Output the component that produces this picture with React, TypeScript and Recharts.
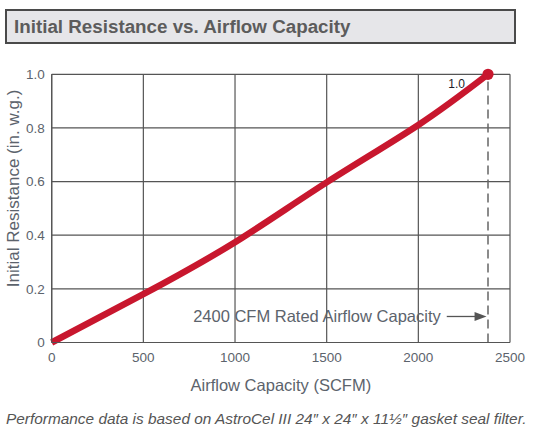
import {
  CartesianGrid,
  Label,
  Line,
  LineChart,
  ReferenceLine,
  XAxis,
  YAxis,
} from "recharts";

// values
const airflow = [0, 500, 1000, 1500, 2000, 2380];
const resistance = [0, 0.18, 0.374, 0.597, 0.811, 1.0];
const xTicks = [0, 500, 1000, 1500, 2000, 2500];
const yTicks = [0, 0.2, 0.4, 0.6, 0.8, 1.0];
const ratedAirflow = 2380;
const arrowFrom = { x: 2155, y: 0.097 };
const arrowTo = { x: 2372, y: 0.097 };

const data = airflow.map((x, i) => ({ x, y: resistance[i] }));
const lastIndex = data.length - 1;

const font = '"Liberation Sans", Arial, Helvetica, sans-serif';
const textGray = "#5c636c";
const gridGray = "#555";
const red = "#c8172e";

function EndDot(props: any) {
  const { cx, cy, index } = props;
  if (index !== lastIndex) return <g key={`d${index}`} />;
  return (
    <g key={`d${index}`}>
      <circle cx={cx} cy={cy} r={5.6} fill={red} />
      <text
        x={cx - 23}
        y={cy + 10}
        textAnchor="end"
        dominantBaseline="central"
        fontSize={12}
        fontFamily={font}
        fill="#1c1c28"
      >
        1.0
      </text>
    </g>
  );
}

function RatedArrow(props: any) {
  const { x1, y1, x2, y2 } = props;
  return (
    <g>
      <line x1={x1} y1={y1} x2={x2 - 9} y2={y2} stroke="#555" strokeWidth={1.3} />
      <polygon
        points={`${x2},${y2} ${x2 - 12},${y2 - 4.5} ${x2 - 12},${y2 + 4.5}`}
        fill="#555"
      />
      <text
        x={x1 - 6}
        y={y1}
        textAnchor="end"
        dominantBaseline="central"
        fontSize={16.5}
        fontFamily={font}
        fill={textGray}
      >
        2400 CFM Rated Airflow Capacity
      </text>
    </g>
  );
}

export default function App() {
  return (
    <div
      style={{
        position: "absolute",
        left: 0,
        top: 0,
        width: 534,
        height: 433,
        background: "#fff",
        fontFamily: font,
      }}
    >
      <div
        style={{
          position: "absolute",
          left: 5,
          top: 9,
          width: 511,
          height: 35,
          boxSizing: "border-box",
          border: "2px solid #4a4a4a",
          background: "#e6e6e9",
          color: "#5c5c5c",
          fontWeight: 700,
          fontSize: 18.8,
          lineHeight: "31px",
          paddingLeft: 7,
        }}
      >
        Initial Resistance vs. Airflow Capacity
      </div>

      <div style={{ position: "absolute", left: 0, top: 0 }}>
        <LineChart
          width={534}
          height={433}
          data={data}
          margin={{ top: 74.3, right: 24, bottom: 60.5, left: 11.7 }}
        >
          <CartesianGrid stroke={gridGray} strokeWidth={1.2} />
          <XAxis
            dataKey="x"
            type="number"
            domain={[0, 2500]}
            ticks={xTicks}
            height={30}
            tickSize={0}
            tickMargin={10}
            axisLine={{ stroke: gridGray, strokeWidth: 1.2 }}
            tick={{ fill: textGray, fontSize: 13.5, fontFamily: font }}
          >
            <Label
              content={({ viewBox }: any) => (
                <text
                  x={viewBox.x + viewBox.width / 2}
                  y={385}
                  textAnchor="middle"
                  dominantBaseline="central"
                  fontSize={16.5}
                  fontFamily={font}
                  fill={textGray}
                >
                  Airflow Capacity (SCFM)
                </text>
              )}
            />
          </XAxis>
          <YAxis
            type="number"
            domain={[0, 1]}
            ticks={yTicks}
            width={40}
            tickSize={0}
            tickMargin={7}
            axisLine={{ stroke: gridGray, strokeWidth: 1.2 }}
            tickFormatter={(v: number) => (v === 0 ? "0" : v.toFixed(1))}
            tick={{ fill: textGray, fontSize: 13.5, fontFamily: font }}
          >
            <Label
              content={({ viewBox }: any) => {
                const cx = 14;
                const cy = viewBox.y + viewBox.height / 2 - 20;
                return (
                  <text
                    x={cx}
                    y={cy}
                    transform={`rotate(-90, ${cx}, ${cy})`}
                    textAnchor="middle"
                    dominantBaseline="central"
                    fontSize={17}
                    fontFamily={font}
                    fill={textGray}
                  >
                    Initial Resistance (in. w.g.)
                  </text>
                );
              }}
            />
          </YAxis>
          <ReferenceLine
            x={ratedAirflow}
            stroke="#666"
            strokeWidth={1.5}
            strokeDasharray="9 5"
          />
          <ReferenceLine
            segment={[arrowFrom, arrowTo]}
            shape={(p: any) => <RatedArrow {...p} />}
          />
          <Line
            type="natural"
            dataKey="y"
            stroke={red}
            strokeWidth={6.5}
            strokeLinecap="butt"
            dot={(p: any) => <EndDot {...p} />}
            activeDot={false}
            isAnimationActive={false}
          />
        </LineChart>
      </div>

      <div
        style={{
          position: "absolute",
          left: 6,
          top: 410,
          fontStyle: "italic",
          fontSize: 15.4,
          lineHeight: "18px",
          color: "#555",
          whiteSpace: "nowrap",
        }}
      >
        Performance data is based on AstroCel III 24″ x 24″ x 11½″ gasket seal filter.
      </div>
    </div>
  );
}
